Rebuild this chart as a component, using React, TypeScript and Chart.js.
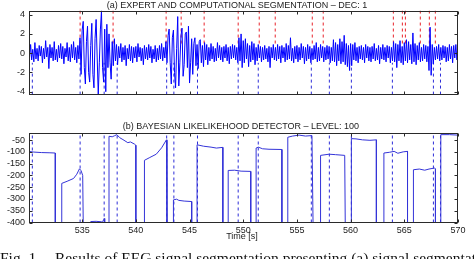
import React, { useEffect, useRef } from "react";
import { Chart, registerables } from "chart.js";
Chart.register(...registerables);

// EEG samples, 10 per second, starting at 530 s
const eegStart = 530;
const eegRate = 10;
const eegValues = [
  0.6, -0.5, 0.9, -0.7, 0.4, -0.9, 1.1, -0.6, 0.5, -0.8,
  0.8, -0.3, 0.7, -1.0, 0.5, -0.6, 1.3, -0.4, 0.6, -1.6,
  0.9, -0.5, 0.6, -0.8, 1.2, -0.7, 0.4, -0.9, 0.8, -0.5,
  1.0, -0.6, 0.7, -1.1, 0.5, -0.4, 1.1, -0.8, 0.6, -0.9,
  0.9, -0.5, 1.2, -0.7, 0.6, -1.0, 0.8, -0.6, 1.6, -2.2,
  2.4, 3.3, -1.5, -3.2, 1.2, 2.8, -2.0, -3.0, 0.8, 3.1,
  -2.2, -3.6, 1.5, 3.5, -0.5, -4.3, -1.0, 2.5, 4.4, -1.5,
  -3.0, 2.5, -4.0, 3.0, -1.5, 2.0, -1.0, -2.7, 1.2, -1.3,
  1.5, -0.8, 0.9, -1.2, 0.7, -0.5, 1.0, -0.9, 0.6, -0.7,
  0.8, -1.3, 0.5, -0.6, 0.9, -0.8, 0.7, -1.0, 0.6, -0.5,
  0.7, -0.9, 1.0, -0.4, 0.6, -0.8, 0.5, -1.2, 0.8, -0.6,
  0.6, -0.7, 0.9, -0.5, 0.7, -1.0, 0.4, -0.6, 0.8, -0.9,
  0.5, -0.7, 0.8, -0.6, 1.0, -0.8, 0.6, -0.5, 1.2, -1.0,
  1.8, 2.5, -1.0, -3.2, 1.6, 2.4, -2.0, -3.6, 0.5, 3.8,
  -3.4, -1.0, 1.8, 2.6, -2.4, -1.2, 2.0, 2.2, -1.5, 2.8,
  -3.1, -1.0, 1.5, -2.2, 1.0, 1.6, -1.3, 0.9, -1.6, 1.2,
  1.4, -1.0, 0.8, -1.4, 1.1, -0.7, 0.9, -1.2, 0.6, -0.8,
  1.0, -0.6, 0.7, -0.9, 0.5, -0.8, 1.1, -0.5, 0.8, -0.7,
  0.6, -0.9, 0.7, -0.5, 0.9, -0.8, 0.6, -1.1, 0.7, -0.6,
  0.9, -0.5, 0.8, -0.7, 0.6, -1.0, 1.6, -0.8, 2.0, -1.5,
  1.3, -1.0, 1.5, -0.6, 1.0, -1.4, 0.8, -0.9, 1.2, -0.7,
  1.0, -1.2, 0.6, -0.8, 0.9, -0.5, 0.7, -0.9, 0.6, -0.7,
  0.8, -0.6, 0.5, -0.9, 0.7, -1.5, 0.6, -0.5, 0.9, -0.7,
  0.6, -0.8, 0.9, -0.6, 0.7, -1.0, 0.8, -0.5, 0.6, -0.9,
  1.0, -0.7, 0.8, -0.6, 1.6, -0.8, 0.5, -1.0, 0.7, -0.6,
  0.8, -0.9, 0.6, -0.7, 1.0, -0.5, 0.7, -1.1, 0.6, -0.8,
  0.9, -0.6, 0.7, -1.0, 0.5, -0.7, 0.8, -0.6, 1.1, -0.9,
  0.6, -0.8, 0.9, -0.5, 0.7, -0.9, 0.6, -0.7, 0.8, -0.6,
  0.7, -1.0, 0.6, -0.8, 1.4, -0.9, 1.1, -1.3, 0.9, -0.8,
  1.5, -1.1, 1.2, -0.9, 1.85, -1.2, 1.0, -1.4, 0.8, -1.8,
  1.0, -1.3, 0.9, -0.7, 1.1, -0.8, 0.6, -1.0, 0.7, -0.6,
  0.8, -0.7, 0.6, -1.0, 0.9, -0.5, 0.7, -0.8, 0.6, -0.9,
  0.7, -0.6, 1.0, -0.8, 0.5, -0.7, 0.8, -1.1, 0.6, -0.6,
  0.9, -0.7, 0.6, -0.9, 0.8, -0.5, 0.7, -1.0, 0.6, -0.8,
  1.2, -0.9, 1.0, -1.5, 0.9, -0.8, 1.3, -1.0, 0.7, -1.2,
  1.1, -0.8, 1.4, -1.0, 1.2, -0.7, 0.9, -1.1, 2.1, -0.9,
  1.0, -1.2, 0.8, -0.7, 1.1, -0.9, 0.6, -0.8, 0.9, -0.6,
  0.8, -0.9, 0.7, -1.8, 2.7, -2.3, 0.9, -1.1, 0.6, -0.7,
  0.7, -0.6, 0.9, -0.8, 0.6, -0.7, 0.8, -0.5, 0.7, -0.9,
  0.6, -0.8, 0.9, -0.6, 0.7, -1.0, 0.8, -0.5, 0.9, -0.7,
  0.5,
];

// expert (red) and computational (blue) segment boundaries, seconds
const expertMarks = [534.81, 537.88, 542.82, 544.22, 546.36, 549.53, 551.49, 552.98, 556.43, 557.45, 563.98, 564.82, 565.1, 566.49, 567.33, 567.89];
const computedMarks = [530.36, 534.81, 537.05, 538.26, 542.87, 543.54, 545.74, 549.53, 551.4, 556.34, 558.02, 560.07, 563.89, 567.71, 568.37];

// Bayesian likelihood detector output
const bayesTimes = [
  530.0, 530.5, 531.2, 532.0, 532.5, 532.5,
  533.1, 533.1, 533.6, 534.2, 534.5, 534.75, 534.9, 535.05, 535.1,
  535.8, 535.8, 536.3, 536.8, 537.0, 537.05, 537.1,
  537.5, 537.5, 537.8, 538.0, 538.23, 538.5, 538.8, 539.25, 539.5, 539.87, 540.0, 540.0,
  540.8, 540.8, 541.3, 541.9, 542.4, 542.85, 542.9,
  543.5, 543.5, 543.8, 544.0, 544.5, 545.2, 545.2,
  545.7, 545.7, 546.3, 547.0, 547.5, 548.1, 548.1,
  548.6, 548.6, 549.2, 549.8, 550.7, 550.7,
  551.2, 551.2, 551.4, 551.8, 552.4, 553.6, 553.6,
  554.15, 554.15, 554.6, 555.2, 555.8, 556.4, 556.5,
  557.2, 557.2, 558.0, 558.6, 559.45, 559.5,
  560.07, 560.07, 560.5, 561.1, 561.8, 562.4, 562.4,
  563.1, 563.1, 563.6, 564.05, 564.4, 564.9, 565.3, 565.3,
  565.85, 565.85, 566.4, 566.9, 567.3, 567.8, 567.9, 567.9,
  568.4, 568.4, 569.2, 570.0,
];
const bayesValues = [
  -98, -101, -103, -104, -105, -400,
  -400, -234, -225, -213, -195, -172, -180, -200, -400,
  -400, -396, -395, -397, -392, -383, -400,
  -400, -34, -36, -32, -27, -40, -48, -61, -58, -67, -72, -400,
  -400, -136, -124, -110, -83, -49, -400,
  -400, -304, -301, -306, -309, -311, -400,
  -400, -70, -76, -80, -84, -81, -400,
  -400, -179, -178, -182, -183, -400,
  -400, -84, -80, -87, -89, -90, -400,
  -400, -38, -33, -29, -33, -31, -400,
  -400, -115, -110, -112, -115, -400,
  -400, -44, -45, -49, -51, -49, -400,
  -400, -105, -102, -98, -106, -100, -98, -400,
  -400, -176, -173, -178, -173, -169, -172, -400,
  -400, -27, -27, -29,
];

const xTicks = [535, 540, 545, 550, 555, 560, 565, 570];
const topYTicks = [-4, -2, 0, 2, 4];
const bottomYTicks = [-400, -350, -300, -250, -200, -150, -100, -50];

const X_MIN = 530.05;
const X_MAX = 570;
const TOP_Y = [-4.3, 4.43];
const BOT_Y = [-400, -20];

const SANS = "'Liberation Sans', Arial, sans-serif";

const framePlugin = {
  id: "frame",
  afterDatasetsDraw(chart: any) {
    const { ctx, chartArea: a, scales } = chart;
    ctx.save();
    ctx.strokeStyle = "#2a2a2a";
    ctx.lineWidth = 1;
    const l = Math.round(a.left) + 0.5;
    const r = Math.round(a.right) - 0.5;
    const t = Math.round(a.top) + 0.5;
    const b = Math.round(a.bottom) - 0.5;
    ctx.strokeRect(l, t, r - l, b - t);
    const L = 3;
    ctx.beginPath();
    scales.x.ticks.forEach((tk: any) => {
      const px = Math.round(scales.x.getPixelForValue(tk.value)) + 0.5;
      ctx.moveTo(px, b);
      ctx.lineTo(px, b - L);
      ctx.moveTo(px, t);
      ctx.lineTo(px, t + L);
    });
    scales.y.ticks.forEach((tk: any) => {
      const py = Math.round(scales.y.getPixelForValue(tk.value)) + 0.5;
      ctx.moveTo(l, py);
      ctx.lineTo(l + L, py);
      ctx.moveTo(r, py);
      ctx.lineTo(r - L, py);
    });
    ctx.stroke();
    ctx.restore();
  },
};

function vlines(marks: number[], y0: number, y1: number) {
  const pts: any[] = [];
  marks.forEach((m) => {
    pts.push({ x: m, y: y0 }, { x: m, y: y1 }, { x: m, y: null });
  });
  return pts;
}

function makeScales(yRange: number[], yTicks: number[], showX: boolean, xHeight: number) {
  return {
    x: {
      type: "linear",
      min: X_MIN,
      max: X_MAX,
      afterBuildTicks: (s: any) => {
        s.ticks = xTicks.map((v) => ({ value: v }));
      },
      ticks: {
        display: showX,
        autoSkip: false,
        maxRotation: 0,
        padding: 3,
        color: "#222",
        font: { family: SANS, size: 9 },
        callback: (v: any) => String(v),
      },
      grid: { display: false, drawTicks: false },
      border: { display: false },
      afterFit: (s: any) => {
        s.height = xHeight;
      },
    },
    y: {
      type: "linear",
      min: yRange[0],
      max: yRange[1],
      afterBuildTicks: (s: any) => {
        s.ticks = yTicks.map((v) => ({ value: v }));
      },
      ticks: {
        autoSkip: false,
        padding: 4,
        color: "#222",
        font: { family: SANS, size: 9 },
        callback: (v: any) => String(v),
      },
      grid: { display: false, drawTicks: false },
      border: { display: false },
      afterFit: (s: any) => {
        s.width = 29;
      },
    },
  };
}

export default function App() {
  const topRef = useRef<HTMLCanvasElement | null>(null);
  const botRef = useRef<HTMLCanvasElement | null>(null);

  useEffect(() => {
    const eegPts = eegValues.map((v, i) => ({ x: eegStart + i / eegRate, y: v }));
    const bayesPts = bayesTimes.map((t, i) => ({ x: t, y: bayesValues[i] }));

    const top = new Chart(topRef.current as HTMLCanvasElement, {
      type: "line",
      data: {
        datasets: [
          {
            data: eegPts,
            borderColor: "#0000ff",
            borderWidth: 1,
            pointRadius: 0,
            tension: 0,
          },
          {
            data: vlines(expertMarks, 1, TOP_Y[1]),
            borderColor: "#e8222a",
            borderWidth: 1,
            borderDash: [3, 3],
            pointRadius: 0,
            spanGaps: false,
          },
          {
            data: vlines(computedMarks, TOP_Y[0], -1),
            borderColor: "#2c2cd8",
            borderWidth: 1,
            borderDash: [3, 3],
            pointRadius: 0,
            spanGaps: false,
          },
        ],
      } as any,
      options: {
        responsive: false,
        animation: false,
        devicePixelRatio: 1,
        layout: { padding: { left: 0, right: 16, top: 10.5, bottom: 5.5 } },
        plugins: { legend: { display: false }, tooltip: { enabled: false }, title: { display: false } },
        scales: makeScales(TOP_Y, topYTicks, false, 0) as any,
      },
      plugins: [framePlugin],
    });

    const bot = new Chart(botRef.current as HTMLCanvasElement, {
      type: "line",
      data: {
        datasets: [
          {
            data: bayesPts,
            borderColor: "#3434d8",
            borderWidth: 1,
            pointRadius: 0,
            tension: 0,
          },
          {
            data: vlines(computedMarks, BOT_Y[0], BOT_Y[1]),
            borderColor: "#2c2cd8",
            borderWidth: 1,
            borderDash: [3, 3],
            pointRadius: 0,
            spanGaps: false,
          },
        ],
      } as any,
      options: {
        responsive: false,
        animation: false,
        devicePixelRatio: 1,
        layout: { padding: { left: 0, right: 16, top: 29, bottom: 0 } },
        plugins: { legend: { display: false }, tooltip: { enabled: false }, title: { display: false } },
        scales: makeScales(BOT_Y, bottomYTicks, true, 36.5) as any,
      },
      plugins: [framePlugin],
    });

    return () => {
      top.destroy();
      bot.destroy();
    };
  }, []);

  const label: React.CSSProperties = {
    position: "absolute",
    fontFamily: SANS,
    fontSize: 9,
    lineHeight: "10px",
    color: "#222",
    whiteSpace: "nowrap",
  };

  return (
    <div
      style={{
        position: "absolute",
        left: 0,
        top: 0,
        width: 474,
        height: 259,
        overflow: "hidden",
        background: "#fff",
      }}
    >
      <canvas ref={topRef} width={474} height={104} style={{ position: "absolute", left: 0, top: 0 }} />
      <canvas ref={botRef} width={474} height={155} style={{ position: "absolute", left: 0, top: 104 }} />
      <div style={{ ...label, left: 0, width: 474, top: 0, textAlign: "center" }}>
        (a) EXPERT AND COMPUTATIONAL SEGMENTATION – DEC: 1
      </div>
      <div style={{ ...label, left: 4, width: 474, top: 121, textAlign: "center" }}>
        (b) BAYESIAN LIKELIKEHOOD DETECTOR – LEVEL: 100
      </div>
      <div style={{ ...label, left: 0, width: 484, top: 231, textAlign: "center" }}>Time [s]</div>
      <div
        style={{
          position: "absolute",
          left: 0,
          top: 250,
          fontFamily: "'Liberation Serif', 'Times New Roman', serif",
          fontSize: 15.5,
          lineHeight: "16px",
          color: "#111",
          whiteSpace: "nowrap",
        }}
      >
        <span>Fig. 1.</span>
        <span style={{ position: "absolute", left: 55, top: 0 }}>
          Results of EEG signal segmentation presenting (a) signal segmentation
        </span>
      </div>
    </div>
  );
}
